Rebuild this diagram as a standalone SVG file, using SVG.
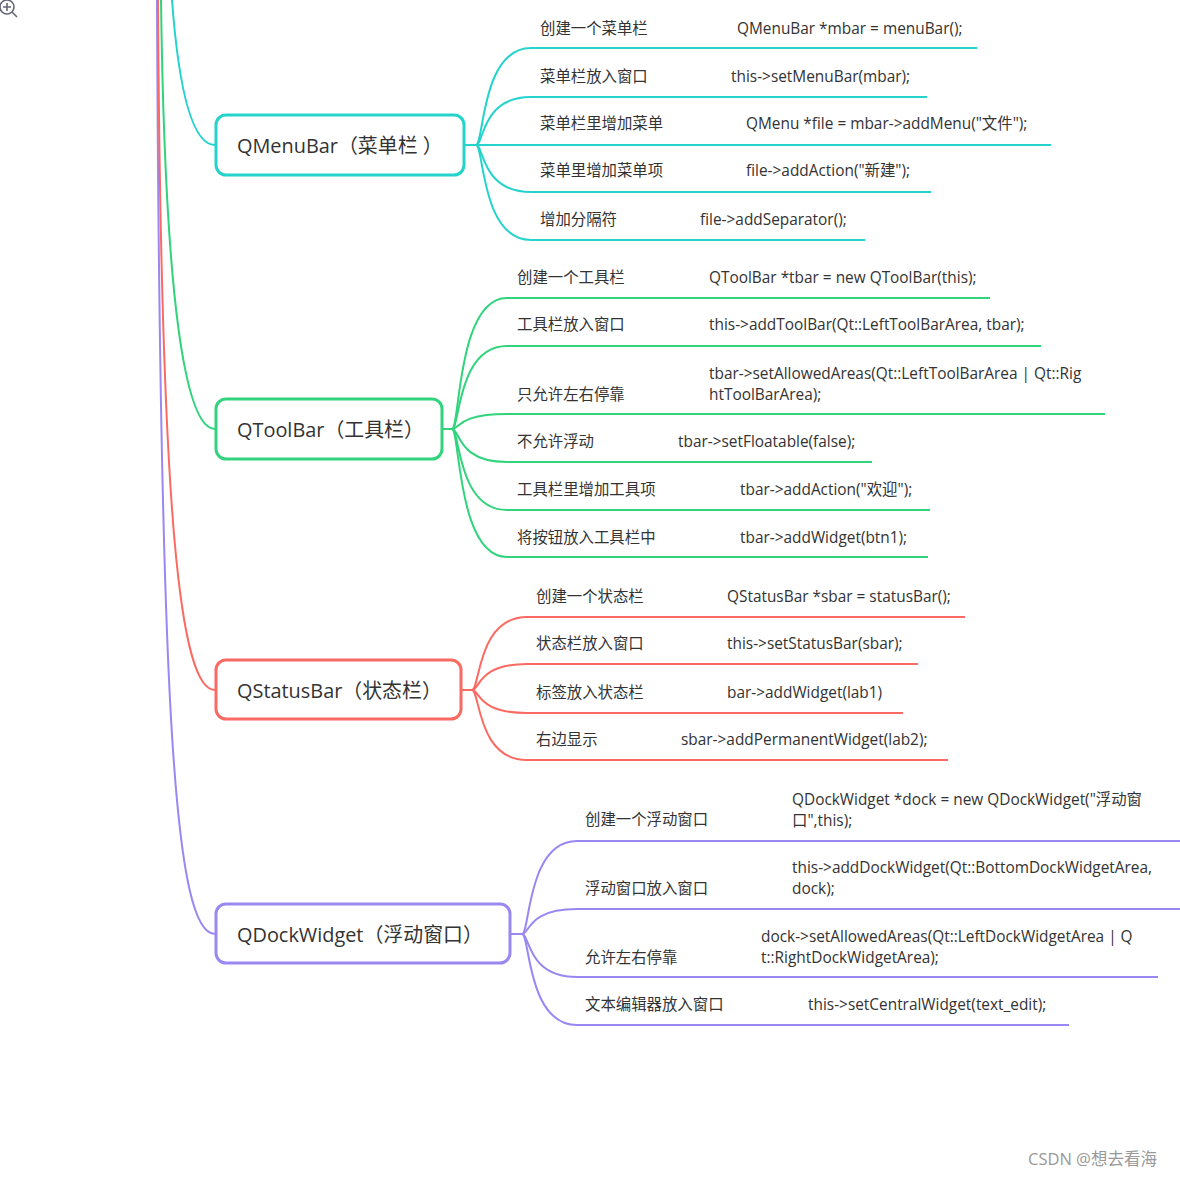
<svg xmlns="http://www.w3.org/2000/svg" width="1180" height="1177" viewBox="0 0 1180 1177">
<style>
text{font-family:"Open Sans","Noto Sans CJK SC",sans-serif;fill:#333;font-size:15.4px}
.n{font-size:19.9px}
.c path{fill:none;stroke-width:2}
.t{stroke:#24d3cb}.g{stroke:#31d47c}.r{stroke:#fb6a62}.p{stroke:#9b87f2}
rect{fill:#fff;stroke-width:3}
</style>
<rect width="1180" height="1177" fill="#fff" stroke="none"/>
<g fill="none" stroke="#667" stroke-width="1.6"><circle cx="7" cy="7" r="7"/><path d="M7 3v8M3 7h8M12 12l5 5"/></g>
<g class="c" id="connectors">
<path class="p" d="M157 0C160 720 175 934 215 934"/>
<path class="r" d="M158 0C161 520 180 690 215 690"/>
<path class="g" d="M161 0C165 300 185 429 215 429"/>
<path class="t" d="M172 0C178 80 190 145 215 145"/>
<g class="t">
<path d="M464 145H476"/>
<path d="M476 145C484 145 481 48 531 48H977"/>
<path d="M476 145C484 145 481 97 531 97H927"/>
<path d="M476 145H1051"/>
<path d="M476 145C484 145 481 192 531 192H931"/>
<path d="M476 145C484 145 481 240 531 240H865"/>
</g>
<g class="g">
<path d="M442 429H452"/>
<path d="M452 429C460 429 457 298 507 298H990"/>
<path d="M452 429C460 429 457 346 507 346H1041"/>
<path d="M452 429C460 429 457 414 507 414H1105"/>
<path d="M452 429C460 429 457 462 507 462H872"/>
<path d="M452 429C460 429 457 510 507 510H930"/>
<path d="M452 429C460 429 457 557 507 557H928"/>
</g>
<g class="r">
<path d="M461 690H472"/>
<path d="M472 690C480 690 477 617 527 617H965"/>
<path d="M472 690C480 690 477 664 527 664H918"/>
<path d="M472 690C480 690 477 713 527 713H903"/>
<path d="M472 690C480 690 477 760 527 760H948"/>
</g>
<g class="p">
<path d="M510 934H522"/>
<path d="M522 934C530 934 527 841 577 841H1180"/>
<path d="M522 934C530 934 527 909 577 909H1180"/>
<path d="M522 934C530 934 527 977 577 977H1158"/>
<path d="M522 934C530 934 527 1025 577 1025H1069"/>
</g>
</g>
<g id="menubar"><rect x="216" y="115" width="248" height="60" rx="10" stroke="#24d3cb"/><text class="n" x="237" y="153">QMenuBar（菜单栏 ）</text>
<text x="540" y="34">创建一个菜单栏</text><text x="737" y="34">QMenuBar *mbar = menuBar();</text>
<text x="540" y="82">菜单栏放入窗口</text><text x="731" y="82">this-&gt;setMenuBar(mbar);</text>
<text x="540" y="129">菜单栏里增加菜单</text><text x="746" y="129">QMenu *file = mbar-&gt;addMenu("文件");</text>
<text x="540" y="176">菜单里增加菜单项</text><text x="746" y="176">file-&gt;addAction("新建");</text>
<text x="540" y="225">增加分隔符</text><text x="700" y="225">file-&gt;addSeparator();</text>
</g>
<g id="toolbar"><rect x="216" y="399" width="226" height="60" rx="10" stroke="#31d47c"/><text class="n" x="237" y="437">QToolBar（工具栏）</text>
<text x="517" y="283">创建一个工具栏</text><text x="709" y="283">QToolBar *tbar = new QToolBar(this);</text>
<text x="517" y="330">工具栏放入窗口</text><text x="709" y="330">this-&gt;addToolBar(Qt::LeftToolBarArea, tbar);</text>
<text x="517" y="400">只允许左右停靠</text><text x="709" y="379">tbar-&gt;setAllowedAreas(Qt::LeftToolBarArea | Qt::Rig</text><text x="709" y="400">htToolBarArea);</text>
<text x="517" y="447">不允许浮动</text><text x="678" y="447">tbar-&gt;setFloatable(false);</text>
<text x="517" y="495">工具栏里增加工具项</text><text x="740" y="495">tbar-&gt;addAction("欢迎");</text>
<text x="517" y="543">将按钮放入工具栏中</text><text x="740" y="543">tbar-&gt;addWidget(btn1);</text>
</g>
<g id="statusbar"><rect x="216" y="660" width="245" height="59" rx="10" stroke="#fb6a62"/><text class="n" x="237" y="698">QStatusBar（状态栏）</text>
<text x="536" y="602">创建一个状态栏</text><text x="727" y="602">QStatusBar *sbar = statusBar();</text>
<text x="536" y="649">状态栏放入窗口</text><text x="727" y="649">this-&gt;setStatusBar(sbar);</text>
<text x="536" y="698">标签放入状态栏</text><text x="727" y="698">bar-&gt;addWidget(lab1)</text>
<text x="536" y="745">右边显示</text><text x="681" y="745">sbar-&gt;addPermanentWidget(lab2);</text>
</g>
<g id="dockwidget"><rect x="216" y="904" width="294" height="59" rx="10" stroke="#9b87f2"/><text class="n" x="237" y="942">QDockWidget（浮动窗口）</text>
<text x="585" y="825">创建一个浮动窗口</text><text x="792" y="805">QDockWidget *dock = new QDockWidget("浮动窗</text><text x="792" y="826">口",this);</text>
<text x="585" y="894">浮动窗口放入窗口</text><text x="792" y="873">this-&gt;addDockWidget(Qt::BottomDockWidgetArea,</text><text x="792" y="894">dock);</text>
<text x="585" y="963">允许左右停靠</text><text x="761" y="942">dock-&gt;setAllowedAreas(Qt::LeftDockWidgetArea | Q</text><text x="761" y="963">t::RightDockWidgetArea);</text>
<text x="585" y="1010">文本编辑器放入窗口</text><text x="808" y="1010">this-&gt;setCentralWidget(text_edit);</text>
</g>
<text x="1028" y="1165" style="fill:#999;font-size:16.5px">CSDN @想去看海</text>
</svg>
